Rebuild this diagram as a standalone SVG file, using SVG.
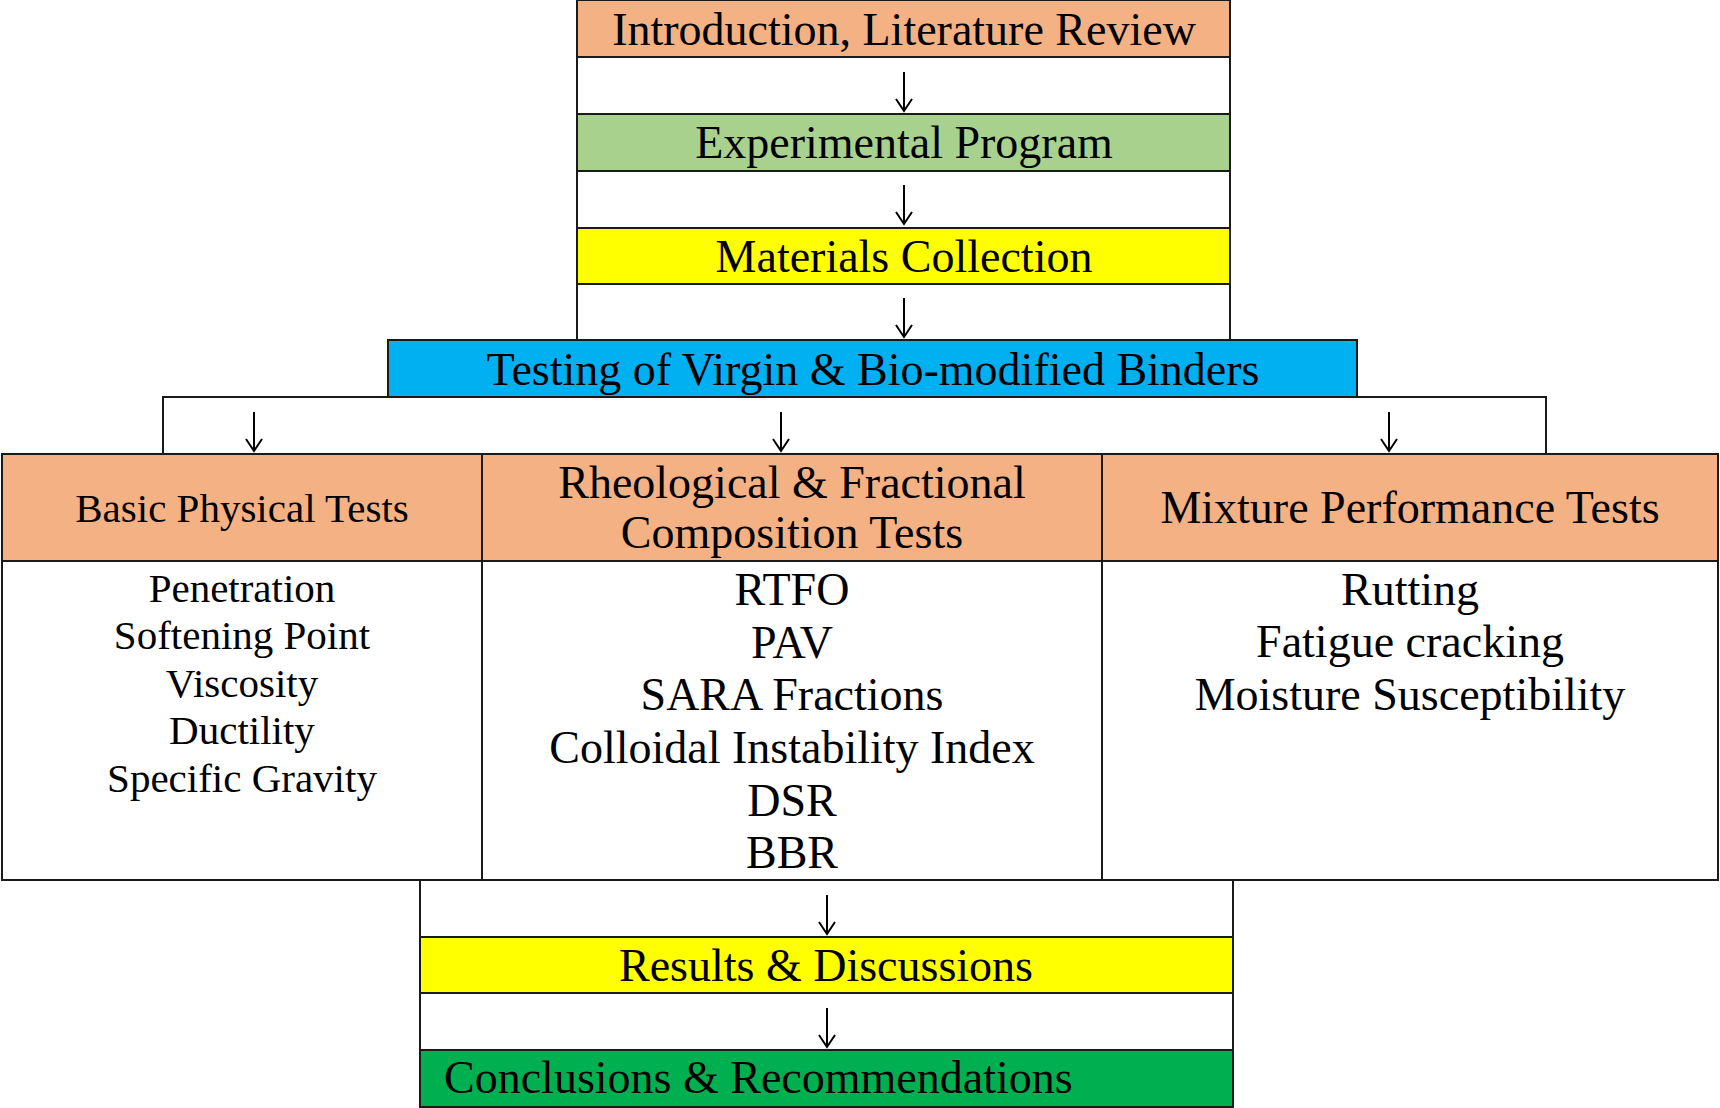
<svg xmlns="http://www.w3.org/2000/svg" width="1720" height="1108" viewBox="0 0 1720 1108">
  <defs>
    <style>
      .box { stroke: #1a1a1a; stroke-width: 2; }
      .line { fill: none; stroke: #1a1a1a; stroke-width: 2; }
      .arrow { fill: none; stroke: #000; stroke-width: 2; marker-end: url(#head); }
      .t { font-family: "Liberation Serif", "Times New Roman", serif; font-size: 46px; fill: #000; text-anchor: middle; }
      .s { font-family: "Liberation Serif", "Times New Roman", serif; font-size: 41px; fill: #000; text-anchor: middle; }
      .orange { fill: #F4B183; }
      .lgreen { fill: #A9D18E; }
      .yellow { fill: #FFFF00; }
      .blue { fill: #00B0F0; }
      .dgreen { fill: #00B050; }
      .white { fill: #FFFFFF; }
    </style>
    <marker id="head" markerUnits="userSpaceOnUse" markerWidth="18" markerHeight="22" viewBox="-15 -11 18 22" refX="0" refY="0" orient="auto">
      <path d="M -12 -8 L 0 0 L -12 8" fill="none" stroke="#000" stroke-width="2"/>
    </marker>
  </defs>
  <rect width="1720" height="1108" fill="#FFFFFF"/>

  <g id="frame-top">
    <rect class="box white" x="577" y="0" width="653" height="340"/>
  </g>
  <g id="frame-bottom">
    <rect class="box white" x="420" y="880" width="813" height="227"/>
  </g>

  <g id="connectors">
    <path class="line" d="M 163 454 L 163 397 L 1546 397 L 1546 454"/>
    <line class="arrow" x1="904" y1="72" x2="904" y2="111"/>
    <line class="arrow" x1="904" y1="185" x2="904" y2="224"/>
    <line class="arrow" x1="904" y1="298" x2="904" y2="337"/>
    <line class="arrow" x1="254" y1="412" x2="254" y2="451"/>
    <line class="arrow" x1="781" y1="412" x2="781" y2="451"/>
    <line class="arrow" x1="1389" y1="412" x2="1389" y2="451"/>
    <line class="arrow" x1="827" y1="895" x2="827" y2="934"/>
    <line class="arrow" x1="827" y1="1008" x2="827" y2="1047"/>
  </g>

  <g id="intro">
    <rect class="box orange" x="577" y="0" width="653" height="57"/>
    <text class="t" x="904" y="45">Introduction, Literature Review</text>
  </g>
  <g id="experimental">
    <rect class="box lgreen" x="577" y="114" width="653" height="57"/>
    <text class="t" x="904" y="158">Experimental Program</text>
  </g>
  <g id="materials">
    <rect class="box yellow" x="577" y="228" width="653" height="56"/>
    <text class="t" x="904" y="272">Materials Collection</text>
  </g>
  <g id="testing">
    <rect class="box blue" x="388" y="340" width="969" height="57"/>
    <text class="t" x="873" y="385">Testing of Virgin &amp; Bio-modified Binders</text>
  </g>

  <g id="basic">
    <rect class="box orange" x="2" y="454" width="480" height="107"/>
    <rect class="box white" x="2" y="561" width="480" height="319"/>
    <text class="s" x="242" y="522">Basic Physical Tests</text>
    <text class="s" x="242" y="602">Penetration</text>
    <text class="s" x="242" y="649">Softening Point</text>
    <text class="s" x="242" y="697">Viscosity</text>
    <text class="s" x="242" y="744">Ductility</text>
    <text class="s" x="242" y="792">Specific Gravity</text>
  </g>
  <g id="rheological">
    <rect class="box orange" x="482" y="454" width="620" height="107"/>
    <rect class="box white" x="482" y="561" width="620" height="319"/>
    <text class="t" x="792" y="498">Rheological &amp; Fractional</text>
    <text class="t" x="792" y="548">Composition Tests</text>
    <text class="t" x="792" y="605">RTFO</text>
    <text class="t" x="792" y="658">PAV</text>
    <text class="t" x="792" y="710">SARA Fractions</text>
    <text class="t" x="792" y="763">Colloidal Instability Index</text>
    <text class="t" x="792" y="816">DSR</text>
    <text class="t" x="792" y="868">BBR</text>
  </g>
  <g id="mixture">
    <rect class="box orange" x="1102" y="454" width="616" height="107"/>
    <rect class="box white" x="1102" y="561" width="616" height="319"/>
    <text class="t" x="1410" y="523">Mixture Performance Tests</text>
    <text class="t" x="1410" y="605">Rutting</text>
    <text class="t" x="1410" y="657">Fatigue cracking</text>
    <text class="t" x="1410" y="710">Moisture Susceptibility</text>
  </g>

  <g id="results">
    <rect class="box yellow" x="420" y="937" width="813" height="56"/>
    <text class="t" x="826" y="981">Results &amp; Discussions</text>
  </g>
  <g id="conclusions">
    <rect class="box dgreen" x="420" y="1050" width="813" height="57"/>
    <text class="t" x="444" y="1093" style="text-anchor:start">Conclusions &amp; Recommendations</text>
  </g>
</svg>
